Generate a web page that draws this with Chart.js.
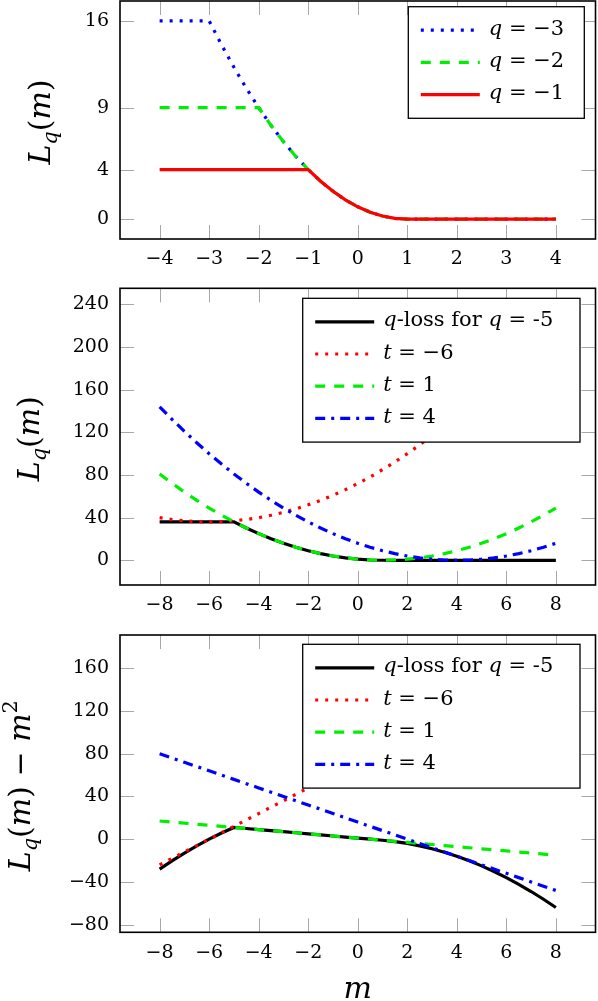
<!DOCTYPE html>
<html>
<head>
<meta charset="utf-8">
<script src="https://cdn.jsdelivr.net/npm/chart.js@4.4.1/dist/chart.umd.min.js"></script>
<style>
html, body { margin: 0; padding: 0; background: #fff; }
body { width: 598px; height: 1001px; position: relative; overflow: hidden; }
canvas { position: absolute; left: 0; }
</style>
</head>
<body>
<canvas id="c1" width="598" height="285" style="top:0px"></canvas>
<canvas id="c2" width="598" height="345" style="top:285px"></canvas>
<canvas id="c3" width="598" height="371" style="top:630px"></canvas>
<script>
// ---- data ----
// top panel: m from -4 to 4
var m1 = [-4, -3.75, -3.5, -3.25, -3, -2.75, -2.5, -2.25, -2, -1.75, -1.5, -1.25, -1, -0.75, -0.5, -0.25,
          0, 0.25, 0.5, 0.75, 1, 1.25, 1.5, 1.75, 2, 2.25, 2.5, 2.75, 3, 3.25, 3.5, 3.75, 4];
var lossQm3 = [16, 16, 16, 16, 16, 14.06, 12.25, 10.56, 9, 7.56, 6.25, 5.06, 4, 3.06, 2.25, 1.56,
               1, 0.56, 0.25, 0.06, 0, 0, 0, 0, 0, 0, 0, 0, 0, 0, 0, 0, 0];
var lossQm2 = [9, 9, 9, 9, 9, 9, 9, 9, 9, 7.56, 6.25, 5.06, 4, 3.06, 2.25, 1.56,
               1, 0.56, 0.25, 0.06, 0, 0, 0, 0, 0, 0, 0, 0, 0, 0, 0, 0, 0];
var lossQm1 = [4, 4, 4, 4, 4, 4, 4, 4, 4, 4, 4, 4, 4, 3.06, 2.25, 1.56,
               1, 0.56, 0.25, 0.06, 0, 0, 0, 0, 0, 0, 0, 0, 0, 0, 0, 0, 0];

// middle and bottom panels: m from -8 to 8
var m2 = [-8, -7.5, -7, -6.5, -6, -5.5, -5, -4.5, -4, -3.5, -3, -2.5, -2, -1.5, -1, -0.5,
          0, 0.5, 1, 1.5, 2, 2.5, 3, 3.5, 4, 4.5, 5, 5.5, 6, 6.5, 7, 7.5, 8];
var qLoss = [36, 36, 36, 36, 36, 36, 36, 30.25, 25, 20.25, 16, 12.25, 9, 6.25, 4, 2.25,
             1, 0.25, 0, 0, 0, 0, 0, 0, 0, 0, 0, 0, 0, 0, 0, 0, 0];
var tNeg6 = [40, 38.25, 37, 36.25, 36, 36.25, 37, 38.25, 40, 42.25, 45, 48.25, 52, 56.25, 61, 66.25,
             72, 78.25, 85, 92.25, 100, 108.25, 117, 126.25, 136, 146.25, 157, 168.25, 180, 192.25, 205, 218.25, 232];
var tOne = [81, 72.25, 64, 56.25, 49, 42.25, 36, 30.25, 25, 20.25, 16, 12.25, 9, 6.25, 4, 2.25,
            1, 0.25, 0, 0.25, 1, 2.25, 4, 6.25, 9, 12.25, 16, 20.25, 25, 30.25, 36, 42.25, 49];
var tFour = [144, 132.25, 121, 110.25, 100, 90.25, 81, 72.25, 64, 56.25, 49, 42.25, 36, 30.25, 25, 20.25,
             16, 12.25, 9, 6.25, 4, 2.25, 1, 0.25, 0, 0.25, 1, 2.25, 4, 6.25, 9, 12.25, 16];

// bottom panel: the same curves minus m^2
var qLossDiff = [-28, -20.25, -13, -6.25, 0, 5.75, 11, 10, 9, 8, 7, 6, 5, 4, 3, 2,
                 1, 0, -1, -2.25, -4, -6.25, -9, -12.25, -16, -20.25, -25, -30.25, -36, -42.25, -49, -56.25, -64];
var tNeg6Diff = [-24, -18, -12, -6, 0, 6, 12, 18, 24, 30, 36, 42, 48, 54, 60, 66,
                 72, 78, 84, 90, 96, 102, 108, 114, 120, 126, 132, 138, 144, 150, 156, 162, 168];
var tOneDiff = [17, 16, 15, 14, 13, 12, 11, 10, 9, 8, 7, 6, 5, 4, 3, 2,
                1, 0, -1, -2, -3, -4, -5, -6, -7, -8, -9, -10, -11, -12, -13, -14, -15];
var tFourDiff = [80, 76, 72, 68, 64, 60, 56, 52, 48, 44, 40, 36, 32, 28, 24, 20,
                 16, 12, 8, 4, 0, -4, -8, -12, -16, -20, -24, -28, -32, -36, -40, -44, -48];

// tick labels
var x1Ticks = [-4, -3, -2, -1, 0, 1, 2, 3, 4];
var y1Ticks = [0, 4, 9, 16];
var x2Ticks = [-8, -6, -4, -2, 0, 2, 4, 6, 8];
var y2Ticks = [0, 40, 80, 120, 160, 200, 240];
var y3Ticks = [-80, -40, 0, 40, 80, 120, 160];

// legend texts (text, italic)
var legend1 = [
  [['q', 1], [' = \u22123', 0]],
  [['q', 1], [' = \u22122', 0]],
  [['q', 1], [' = \u22121', 0]]
];
var legend2 = [
  [['q', 1], ['-loss for ', 0], ['q', 1], [' = -5', 0]],
  [['t', 1], [' = \u22126', 0]],
  [['t', 1], [' = 1', 0]],
  [['t', 1], [' = 4', 0]]
];

// ---- styles ----
var SERIF = '"DejaVu Serif", serif';
var BLUE = '#0000ff', GREEN = '#00ee00', RED = '#ff0000', BLACK = '#000000';
var DOTTED = [3, 7], DASHED = [10, 9], DASHDOT = [10, 6, 3, 6];

function fmt(v) {
  return v < 0 ? '\u2212' + (-v) : String(v);
}

function pts(xs, ys) {
  return xs.map(function (x, i) { return { x: x, y: ys[i] }; });
}

// draw a row of text pieces: [text, italic, size, dy]
function drawRuns(ctx, runs, x, y, align) {
  var total = 0, i, r;
  for (i = 0; i < runs.length; i++) {
    r = runs[i];
    ctx.font = (r[1] ? 'italic ' : '') + r[2] + 'px ' + SERIF;
    total += ctx.measureText(r[0]).width;
  }
  var cx = align === 'center' ? x - total / 2 : x;
  ctx.textAlign = 'left';
  ctx.textBaseline = 'alphabetic';
  ctx.fillStyle = '#000';
  for (i = 0; i < runs.length; i++) {
    r = runs[i];
    ctx.font = (r[1] ? 'italic ' : '') + r[2] + 'px ' + SERIF;
    ctx.fillText(r[0], cx, y + (r[3] || 0));
    cx += ctx.measureText(r[0]).width;
  }
}

var LQM = [['L', 1, 30], ['q', 1, 21, 7], ['(', 0, 30], ['m', 1, 30], [')', 0, 30]];

// per-canvas decorations
var extras = {
  c1: { legend: { left: 408.3, top: 6.7, right: 584.3, rows: legend1 }, ytitle: LQM, ytx: 50 },
  c2: { legend: { left: 302.7, top: 13.3, right: 580, rows: legend2 }, ytitle: LQM, ytx: 38.5 },
  c3: { legend: { left: 302.7, top: 14.3, right: 580, rows: legend2 },
        ytitle: LQM.concat([[' \u2212 ', 0, 30], ['m', 1, 30], ['2', 0, 21, -13]]), ytx: 30, xtitle: true }
};

var framePlugin = {
  id: 'frame',
  beforeDatasetsDraw: function (chart) {
    var a = chart.chartArea, ctx = chart.ctx, xs = chart.scales.x, ys = chart.scales.y;
    ctx.save();
    ctx.strokeStyle = '#a8a8a8';
    ctx.lineWidth = 1;
    ctx.beginPath();
    xs.ticks.forEach(function (t) {
      var p = Math.round(xs.getPixelForValue(t.value)) + 0.5;
      ctx.moveTo(p, a.bottom); ctx.lineTo(p, a.bottom - 14);
      ctx.moveTo(p, a.top); ctx.lineTo(p, a.top + 14);
    });
    ys.ticks.forEach(function (t) {
      var p = Math.round(ys.getPixelForValue(t.value)) + 0.5;
      ctx.moveTo(a.left, p); ctx.lineTo(a.left + 14, p);
      ctx.moveTo(a.right, p); ctx.lineTo(a.right - 14, p);
    });
    ctx.stroke();
    ctx.restore();
  },
  afterDatasetsDraw: function (chart) {
    var a = chart.chartArea, ctx = chart.ctx;
    var ex = extras[chart.canvas.id];
    ctx.save();
    ctx.strokeStyle = '#000';
    ctx.lineWidth = 1.6;
    ctx.strokeRect(a.left, a.top, a.right - a.left, a.bottom - a.top);

    // legend box drawn over the curves
    var lg = ex.legend;
    var h = 15 + 32.2 * lg.rows.length;
    ctx.fillStyle = '#fff';
    ctx.fillRect(lg.left, lg.top, lg.right - lg.left, h);
    ctx.lineWidth = 1.3;
    ctx.strokeRect(lg.left, lg.top, lg.right - lg.left, h);
    chart.data.datasets.forEach(function (ds, i) {
      var ly = lg.top + 23.5 + 32.2 * i;
      ctx.save();
      ctx.strokeStyle = ds.borderColor;
      ctx.lineWidth = ds.borderWidth;
      ctx.setLineDash(ds.borderDash || []);
      ctx.lineCap = 'butt';
      ctx.beginPath();
      ctx.moveTo(lg.left + 12.5, ly);
      ctx.lineTo(lg.left + 71.5, ly);
      ctx.stroke();
      ctx.restore();
      var runs = lg.rows[i].map(function (r) { return [r[0], r[1], 21]; });
      drawRuns(ctx, runs, lg.left + 80.5, ly + 4.5, 'left');
    });
    ctx.restore();
  },
  afterDraw: function (chart) {
    var a = chart.chartArea, ctx = chart.ctx;
    var ex = extras[chart.canvas.id];
    ctx.save();
    ctx.translate(ex.ytx, (a.top + a.bottom) / 2 + 2);
    ctx.rotate(-Math.PI / 2);
    drawRuns(ctx, ex.ytitle, 0, 0, 'center');
    ctx.restore();
    if (ex.xtitle) {
      ctx.save();
      drawRuns(ctx, [['m', 1, 30]], (a.left + a.right) / 2, 368, 'center');
      ctx.restore();
    }
  }
};

function axis(min, max, tickList, isX, size, pad) {
  return {
    type: 'linear',
    min: min,
    max: max,
    afterBuildTicks: function (s) {
      s.ticks = tickList.map(function (v) { return { value: v }; });
    },
    afterFit: function (s) {
      // fixed axis size, no extra room for overhanging labels
      if (isX) {
        s.height = size;
        s.paddingLeft = 0;
        s.paddingRight = 0;
      } else {
        s.width = size;
        s.paddingTop = 0;
        s.paddingBottom = 0;
      }
    },
    grid: { display: false, drawTicks: false },
    border: { display: false },
    ticks: {
      callback: function (v) { return fmt(v); },
      autoSkip: false,
      maxRotation: 0,
      minRotation: 0,
      padding: pad,
      color: '#000',
      font: { family: SERIF, size: 19 }
    }
  };
}

function line(data, color, dash) {
  return {
    data: data,
    borderColor: color,
    borderWidth: 3.2,
    borderDash: dash,
    pointRadius: 0,
    fill: false,
    tension: 0
  };
}

function makeChart(id, datasets, xr, yr, xTicks, yTicks, padTop, xHeight) {
  // later series are drawn on top, as in the original
  datasets.forEach(function (ds, i) { ds.order = datasets.length - i; });
  return new Chart(document.getElementById(id), {
    type: 'line',
    data: { datasets: datasets },
    options: {
      responsive: false,
      animation: false,
      events: [],
      layout: { padding: { top: padTop, right: 2.5, left: 0, bottom: 0 } },
      plugins: { legend: { display: false }, tooltip: { enabled: false } },
      scales: {
        x: axis(xr[0], xr[1], xTicks, true, xHeight, 9),
        y: axis(yr[0], yr[1], yTicks, false, 120, 11)
      }
    },
    plugins: [framePlugin]
  });
}

makeChart('c1', [
  line(pts(m1, lossQm3), BLUE, DOTTED),
  line(pts(m1, lossQm2), GREEN, DASHED),
  line(pts(m1, lossQm1), RED, [])
], [-4.8, 4.8], [-1.6, 17.6], x1Ticks, y1Ticks, 1, 46);

makeChart('c2', [
  line(pts(m2, qLoss), BLACK, []),
  line(pts(m2, tNeg6), RED, DOTTED),
  line(pts(m2, tOne), GREEN, DASHED),
  line(pts(m2, tFour), BLUE, DASHDOT)
], [-9.6, 9.6], [-23.2, 255.2], x2Ticks, y2Ticks, 3.3, 45);

makeChart('c3', [
  line(pts(m2, qLossDiff), BLACK, []),
  line(pts(m2, tNeg6Diff), RED, DOTTED),
  line(pts(m2, tOneDiff), GREEN, DASHED),
  line(pts(m2, tFourDiff), BLUE, DASHDOT)
], [-9.6, 9.6], [-87.2, 191.2], x2Ticks, y3Ticks, 5, 68.7);
</script>
</body>
</html>
